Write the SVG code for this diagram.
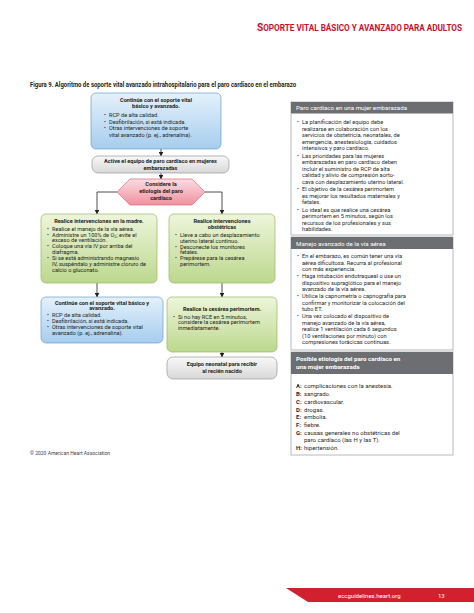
<svg xmlns="http://www.w3.org/2000/svg" width="474" height="613" viewBox="0 0 474 613">
<style>
text{font-family:Roboto,"Liberation Sans",Arial,sans-serif;fill:#231f20}
.t{font-size:5.6px}
.b{font-size:5.6px;font-weight:bold}
.c{text-anchor:middle}
.s{font-size:5.7px;fill:#2b2b2b}
.sl{font-size:6px;fill:#2b2b2b}
.sh{font-size:6.2px;fill:#fff}
.shb{font-size:6.2px;fill:#fff;font-weight:bold}
.lt{font-weight:bold}
.blue{fill:url(#gBlue);stroke:#6f9fc8;stroke-width:0.7}
.green{fill:url(#gGreen);stroke:#94b963;stroke-width:0.7}
.gray{fill:url(#gGray);stroke:#9a9a9a;stroke-width:0.7}
.pink{fill:url(#gPink);stroke:#d8677d;stroke-width:0.7}
.arr{fill:none;stroke:#231f20;stroke-width:0.8;marker-end:url(#ah)}
.panel{fill:#fff;stroke:#a7a9ac;stroke-width:0.8}
.ph{fill:#6d6e71}
</style>
<defs>
<linearGradient id="gBlue" x1="0" y1="0" x2="0" y2="1"><stop offset="0" stop-color="#e4f1fb"/><stop offset="1" stop-color="#a6cdee"/></linearGradient>
<linearGradient id="gGreen" x1="0" y1="0" x2="0" y2="1"><stop offset="0" stop-color="#eef5da"/><stop offset="1" stop-color="#bcd88e"/></linearGradient>
<linearGradient id="gGray" x1="0" y1="0" x2="0" y2="1"><stop offset="0" stop-color="#f8f8f8"/><stop offset="1" stop-color="#d8d8d8"/></linearGradient>
<linearGradient id="gPink" x1="0" y1="0" x2="0" y2="1"><stop offset="0" stop-color="#fbdde3"/><stop offset="1" stop-color="#f0909f"/></linearGradient>
<marker id="ah" viewBox="0 0 6 6" refX="5.5" refY="3" markerWidth="4.5" markerHeight="4.5" orient="auto" markerUnits="userSpaceOnUse"><path d="M0,0 L6,3 L0,6 Z" fill="#231f20"/></marker>
</defs>

<g id="page-header">
<text x="257" y="31" textLength="205" lengthAdjust="spacingAndGlyphs" style="fill:#c8102e;font-weight:bold;font-family:Roboto,'Liberation Sans',sans-serif"><tspan font-size="10.5">S</tspan><tspan font-size="8.5">OPORTE VITAL BÁSICO Y AVANZADO PARA ADULTOS</tspan></text>
<text x="30" y="87" textLength="266" lengthAdjust="spacingAndGlyphs" style="font-size:6.6px;font-weight:bold">Figura 9.  Algoritmo de soporte vital avanzado intrahospitalario para el paro cardíaco en el embarazo</text>
</g>

<g id="connectors">
<line class="arr" x1="161" y1="149" x2="161" y2="156"/>
<line class="arr" x1="161" y1="173" x2="161" y2="179"/>
<polyline class="arr" points="117,192 97,192 97,214"/>
<polyline class="arr" points="205,192 222,192 222,214"/>
<line class="arr" x1="97" y1="283" x2="97" y2="297"/>
<line class="arr" x1="222" y1="283" x2="222" y2="297"/>
<line class="arr" x1="222" y1="352" x2="222" y2="357"/>
</g>

<g id="n-continue-top">
<rect class="blue" x="91" y="93" width="130" height="56" rx="5"/>
<text class="b c" x="156" y="102">Continúe con el soporte vital</text>
<text class="b c" x="156" y="108.4">básico y avanzado.</text>
<text class="t" x="104" y="117">•</text><text class="t" x="109" y="117">RCP de alta calidad.</text>
<text class="t" x="104" y="123.6">•</text><text class="t" x="109" y="123.6">Desfibrilación, si está indicada.</text>
<text class="t" x="104" y="130.2">•</text><text class="t" x="109" y="130.2">Otras intervenciones de soporte</text>
<text class="t" x="109" y="136.8">vital avanzado (p. ej., adrenalina).</text>
</g>

<g id="n-activate">
<rect class="gray" x="92" y="156" width="137" height="17" rx="6"/>
<text class="b c" x="160.5" y="163.2">Active el equipo de paro cardíaco en mujeres</text>
<text class="b c" x="160.5" y="169.8">embarazadas</text>
</g>

<g id="n-consider">
<polygon class="pink" points="117,192 130,179 192,179 205,192 192,205 130,205"/>
<text class="b c" x="161" y="186">Considere la</text>
<text class="b c" x="161" y="193">etiología del paro</text>
<text class="b c" x="161" y="200">cardíaco</text>
</g>

<g id="n-maternal">
<rect class="green" x="41" y="214" width="116" height="69" rx="5"/>
<text class="b c" x="99" y="222.5">Realice intervenciones en la madre.</text>
<text class="t" x="47" y="230.5">•</text><text class="t" x="52" y="230.5">Realice el manejo de la vía aérea.</text>
<text class="t" x="47" y="236.5">•</text><text class="t" x="52" y="236.5">Administre un 100% de O<tspan font-size="3.8" dy="1">2</tspan><tspan dy="-1">; evite el</tspan></text>
<text class="t" x="52" y="242.3">exceso de ventilación.</text>
<text class="t" x="47" y="248.3">•</text><text class="t" x="52" y="248.3">Coloque una vía IV por arriba del</text>
<text class="t" x="52" y="254.1">diafragma.</text>
<text class="t" x="47" y="260.1">•</text><text class="t" x="52" y="260.1">Si se está administrando magnesio</text>
<text class="t" x="52" y="265.9">IV, suspéndalo y administre cloruro de</text>
<text class="t" x="52" y="271.7">calcio o gluconato.</text>
</g>

<g id="n-obstetric">
<rect class="green" x="169" y="214" width="106" height="69" rx="5"/>
<text class="b c" x="222" y="222.5">Realice intervenciones</text>
<text class="b c" x="222" y="228.5">obstétricas</text>
<text class="t" x="175" y="236.7">•</text><text class="t" x="180" y="236.7">Lleve a cabo un desplazamiento</text>
<text class="t" x="180" y="242.5">uterino lateral continuo.</text>
<text class="t" x="175" y="248.5">•</text><text class="t" x="180" y="248.5">Desconecte los monitores</text>
<text class="t" x="180" y="254.3">fetales.</text>
<text class="t" x="175" y="260.3">•</text><text class="t" x="180" y="260.3">Prepárese para la cesárea</text>
<text class="t" x="180" y="266.1">perimortem.</text>
</g>

<g id="n-continue-bottom">
<rect class="blue" x="41" y="297" width="122" height="46" rx="5"/>
<text class="b c" x="102" y="304.5">Continúe con el soporte vital básico y</text>
<text class="b c" x="102" y="310.4">avanzado.</text>
<text class="t" x="47" y="317.4">•</text><text class="t" x="52" y="317.4">RCP de alta calidad.</text>
<text class="t" x="47" y="323.3">•</text><text class="t" x="52" y="323.3">Desfibrilación, si está indicada.</text>
<text class="t" x="47" y="329.2">•</text><text class="t" x="52" y="329.2">Otras intervenciones de soporte vital</text>
<text class="t" x="52" y="335.1">avanzado (p. ej., adrenalina).</text>
</g>

<g id="n-cesarean">
<rect class="green" x="167" y="297" width="110" height="55" rx="5"/>
<text class="b c" x="222" y="311">Realice la cesárea perimortem.</text>
<text class="t" x="173" y="318.5">•</text><text class="t" x="178" y="318.5">Si no hay RCE en 5 minutos,</text>
<text class="t" x="178" y="324.4">considere la cesárea perimortem</text>
<text class="t" x="178" y="330.3">inmediatamente.</text>
</g>

<g id="n-neonatal">
<rect class="gray" x="167" y="357" width="110" height="22" rx="6"/>
<text class="b c" x="222" y="366">Equipo neonatal para recibir</text>
<text class="b c" x="222" y="372.6">al recién nacido</text>
</g>

<g id="panel-1">
<rect class="panel" x="291" y="102" width="162" height="133"/>
<rect class="ph" x="291" y="102" width="162" height="11.5"/>
<text class="sh" x="296" y="110.2">Paro cardíaco en una mujer embarazada</text>
<text class="s" x="297" y="124">•</text><text class="s" x="302" y="124">La planificación del equipo debe</text>
<text class="s" x="302" y="130.6">realizarse en colaboración con los</text>
<text class="s" x="302" y="137.2">servicios de obstetricia, neonatales, de</text>
<text class="s" x="302" y="143.8">emergencia, anestesiología, cuidados</text>
<text class="s" x="302" y="150.4">intensivos y paro cardíaco.</text>
<text class="s" x="297" y="157.6">•</text><text class="s" x="302" y="157.6">Las prioridades para las mujeres</text>
<text class="s" x="302" y="164.2">embarazadas en paro cardíaco deben</text>
<text class="s" x="302" y="170.8">incluir el suministro de RCP de alta</text>
<text class="s" x="302" y="177.4">calidad y alivio de compresión aorto-</text>
<text class="s" x="302" y="184">cava con desplazamiento uterino lateral.</text>
<text class="s" x="297" y="191.2">•</text><text class="s" x="302" y="191.2">El objetivo de la cesárea perimortem</text>
<text class="s" x="302" y="197.8">es mejorar los resultados maternales y</text>
<text class="s" x="302" y="204.4">fetales.</text>
<text class="s" x="297" y="211.6">•</text><text class="s" x="302" y="211.6">Lo ideal es que realice una cesárea</text>
<text class="s" x="302" y="218.2">perimortem en 5 minutos, según los</text>
<text class="s" x="302" y="224.8">recursos de los profesionales y sus</text>
<text class="s" x="302" y="231.4">habilidades.</text>
</g>

<g id="panel-2">
<rect class="panel" x="291" y="237" width="162" height="113"/>
<rect class="ph" x="291" y="237" width="162" height="12"/>
<text class="sh" x="296" y="245.5">Manejo avanzado de la vía aérea</text>
<text class="s" x="297" y="258">•</text><text class="s" x="302" y="258">En el embarazo, es común tener una vía</text>
<text class="s" x="302" y="264.5">aérea dificultosa. Recurra al profesional</text>
<text class="s" x="302" y="271">con más experiencia.</text>
<text class="s" x="297" y="278.1">•</text><text class="s" x="302" y="278.1">Haga intubación endotraqueal o use un</text>
<text class="s" x="302" y="284.6">dispositivo supraglótico para el manejo</text>
<text class="s" x="302" y="291.1">avanzado de la vía aérea.</text>
<text class="s" x="297" y="298.2">•</text><text class="s" x="302" y="298.2">Utilice la capnometría o capnografía para</text>
<text class="s" x="302" y="304.7">confirmar y monitorizar la colocación del</text>
<text class="s" x="302" y="311.2">tubo ET.</text>
<text class="s" x="297" y="318.3">•</text><text class="s" x="302" y="318.3">Una vez colocado el dispositivo de</text>
<text class="s" x="302" y="324.8">manejo avanzado de la vía aérea,</text>
<text class="s" x="302" y="331.3">realice 1 ventilación cada 6 segundos</text>
<text class="s" x="302" y="337.8">(10 ventilaciones por minuto) con</text>
<text class="s" x="302" y="344.3">compresiones torácicas continuas.</text>
</g>

<g id="panel-3">
<rect class="panel" x="291" y="352" width="162" height="103"/>
<rect class="ph" x="291" y="352" width="162" height="22"/>
<text class="shb" x="296" y="361">Posible etiología del paro cardíaco en</text>
<text class="shb" x="296" y="368.8">una mujer embarazada</text>
<text class="sl" x="296" y="388"><tspan class="lt">A:</tspan></text><text class="sl" x="304" y="388">complicaciones con la anestesia.</text>
<text class="sl" x="296" y="396"><tspan class="lt">B:</tspan></text><text class="sl" x="304" y="396">sangrado.</text>
<text class="sl" x="296" y="404"><tspan class="lt">C:</tspan></text><text class="sl" x="304" y="404">cardiovascular.</text>
<text class="sl" x="296" y="411.7"><tspan class="lt">D:</tspan></text><text class="sl" x="304" y="411.7">drogas.</text>
<text class="sl" x="296" y="419.4"><tspan class="lt">E:</tspan></text><text class="sl" x="304" y="419.4">embolia.</text>
<text class="sl" x="296" y="427.1"><tspan class="lt">F:</tspan></text><text class="sl" x="304" y="427.1">fiebre.</text>
<text class="sl" x="296" y="434.8"><tspan class="lt">G:</tspan></text><text class="sl" x="304" y="434.8">causas generales no obstétricas del</text>
<text class="sl" x="304" y="442">paro cardíaco (las H y las T).</text>
<text class="sl" x="296" y="450"><tspan class="lt">H:</tspan></text><text class="sl" x="304" y="450">hipertensión.</text>
</g>

<g id="footer">
<text x="30" y="455" style="font-size:5px;fill:#444">© 2020 American Heart Association</text>
<polygon points="286,588 474,588 474,602 308,602" fill="#d3202f"/>
<text x="338" y="597.5" style="font-size:6px;fill:#fff">eccguidelines.heart.org</text>
<text x="438" y="597.5" style="font-size:6px;fill:#fff">13</text>
</g>
</svg>
